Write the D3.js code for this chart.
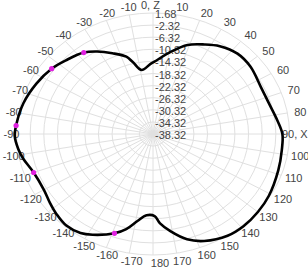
<!DOCTYPE html>
<html>
<head>
<meta charset="utf-8">
<script src="https://cdn.jsdelivr.net/npm/d3@7"></script>
<style>
  body { margin: 0; background: #fff; }
  text { font-family: "Liberation Sans", Arial, sans-serif; font-size: 11px; fill: #444; }
</style>
</head>
<body>
<div id="chart"></div>
<script>
// Chart size
var svgWidth = 308;
var svgHeight = 273;

// Pattern samples: angle (deg, 0 = Z, clockwise) and gain (dB)
var angles = [-176, -171, -166, -161, -152, -147, -140, -133, -127, -120, -110, -102, -97, -91, -86,
    -75, -64, -54, -46, -37, -31, -24, -17, -14, -9, -2,
    1, 11, 19, 27, 34, 43, 52, 64, 73, 83, 90, 98, 108, 121, 130, 139, 147, 157, 164, 171, 176, 179];
var gains = [-11.4, -9.2, -5.9, -3.6, -0.6, 0.7, 1.2, 0.4, -0.5, -1.4, -1.1, 0.6, 1.5, 2.2, 1.9,
    1.0, -0.3, -1.6, -3.1, -4.6, -6.5, -9.1, -11.6, -13.8, -16.9, -15.2,
    -14.4, -10.6, -7.2, -5.1, -3.3, -2.0, -2.1, -3.1, -2.9, -1.6, -0.4, -0.2, 0.3, 1.3, 1.8, 2.1, 1.8, 0.1, -2.1, -5.8, -8.7, -11.2];

// Highlighted sample points (magenta)
var markerAngles = [-37, -54, -86, -110, -161];
var markerGains = [-4.6, -1.6, 1.9, -1.1, -3.6];

// Axis ticks
var ringValues = [1.68, -2.32, -6.32, -10.32, -14.32, -18.32, -22.32, -26.32, -30.32, -34.32, -38.32];
var spokeAngles = d3.range(-170, 190, 10);
var angleLabels = spokeAngles.map(a => a === 0 ? "0, Z" : a === 90 ? "90, X" : String(a));

var cx = 153, cy = 134;
var radius = 121;
var aspect = 1.128; // picture is wider than tall

var svg = d3.select("#chart")
    .append("svg")
    .attr("width", svgWidth)
    .attr("height", svgHeight);

var rScale = d3.scaleLinear()
    .domain([-38.32, 1.68])
    .range([0, radius]);

function px(a, r) { return cx + r * Math.sin(a * Math.PI / 180) * aspect; }
function py(a, r) { return cy - r * Math.cos(a * Math.PI / 180); }

// Grid rings
var grid = svg.append("g").attr("stroke", "#e0e0e0").attr("fill", "none");
grid.selectAll("ellipse")
    .data(ringValues.slice(0, -1))
    .enter()
    .append("ellipse")
    .attr("cx", cx)
    .attr("cy", cy)
    .attr("rx", d => rScale(d) * aspect)
    .attr("ry", d => rScale(d));

// Spokes
grid.selectAll("line")
    .data(spokeAngles)
    .enter()
    .append("line")
    .attr("x1", cx)
    .attr("y1", cy)
    .attr("x2", d => px(d, radius))
    .attr("y2", d => py(d, radius));

// Angle labels (0 and 90 are placed by hand like the original)
function labelX(a) {
    if (a === 0) return 141;
    if (a === 90) return 282;
    if (a === -10) return px(a, 129) + 1;
    if (a === 180) return px(a, 129) + 7;
    return px(a, 129) + 4;
}
svg.append("g").selectAll("text")
    .data(spokeAngles)
    .enter()
    .append("text")
    .attr("x", d => labelX(d))
    .attr("y", d => py(d, 129) + 4)
    .attr("text-anchor", d => (d === 0 || d === 90) ? "start" : "middle")
    .text((d, i) => angleLabels[i]);

// Radial labels
svg.append("g").selectAll("text")
    .data(ringValues)
    .enter()
    .append("text")
    .attr("x", cx + 2)
    .attr("y", d => cy - rScale(d) + 5)
    .text(d => d.toFixed(2));

// Pattern curve
var pts = angles.map((a, i) => [px(a, rScale(gains[i])), py(a, rScale(gains[i]))]);
var line = d3.line().curve(d3.curveCatmullRomClosed);

svg.append("path")
    .attr("d", line(pts))
    .attr("fill", "none")
    .attr("stroke", "#000")
    .attr("stroke-width", 2.6)
    .attr("stroke-linejoin", "round");

svg.append("g").selectAll("circle")
    .data(markerAngles)
    .enter()
    .append("circle")
    .attr("cx", (d, i) => px(d, rScale(markerGains[i])))
    .attr("cy", (d, i) => py(d, rScale(markerGains[i])))
    .attr("r", 2.6)
    .attr("fill", "#e020e0");
</script>
</body>
</html>
